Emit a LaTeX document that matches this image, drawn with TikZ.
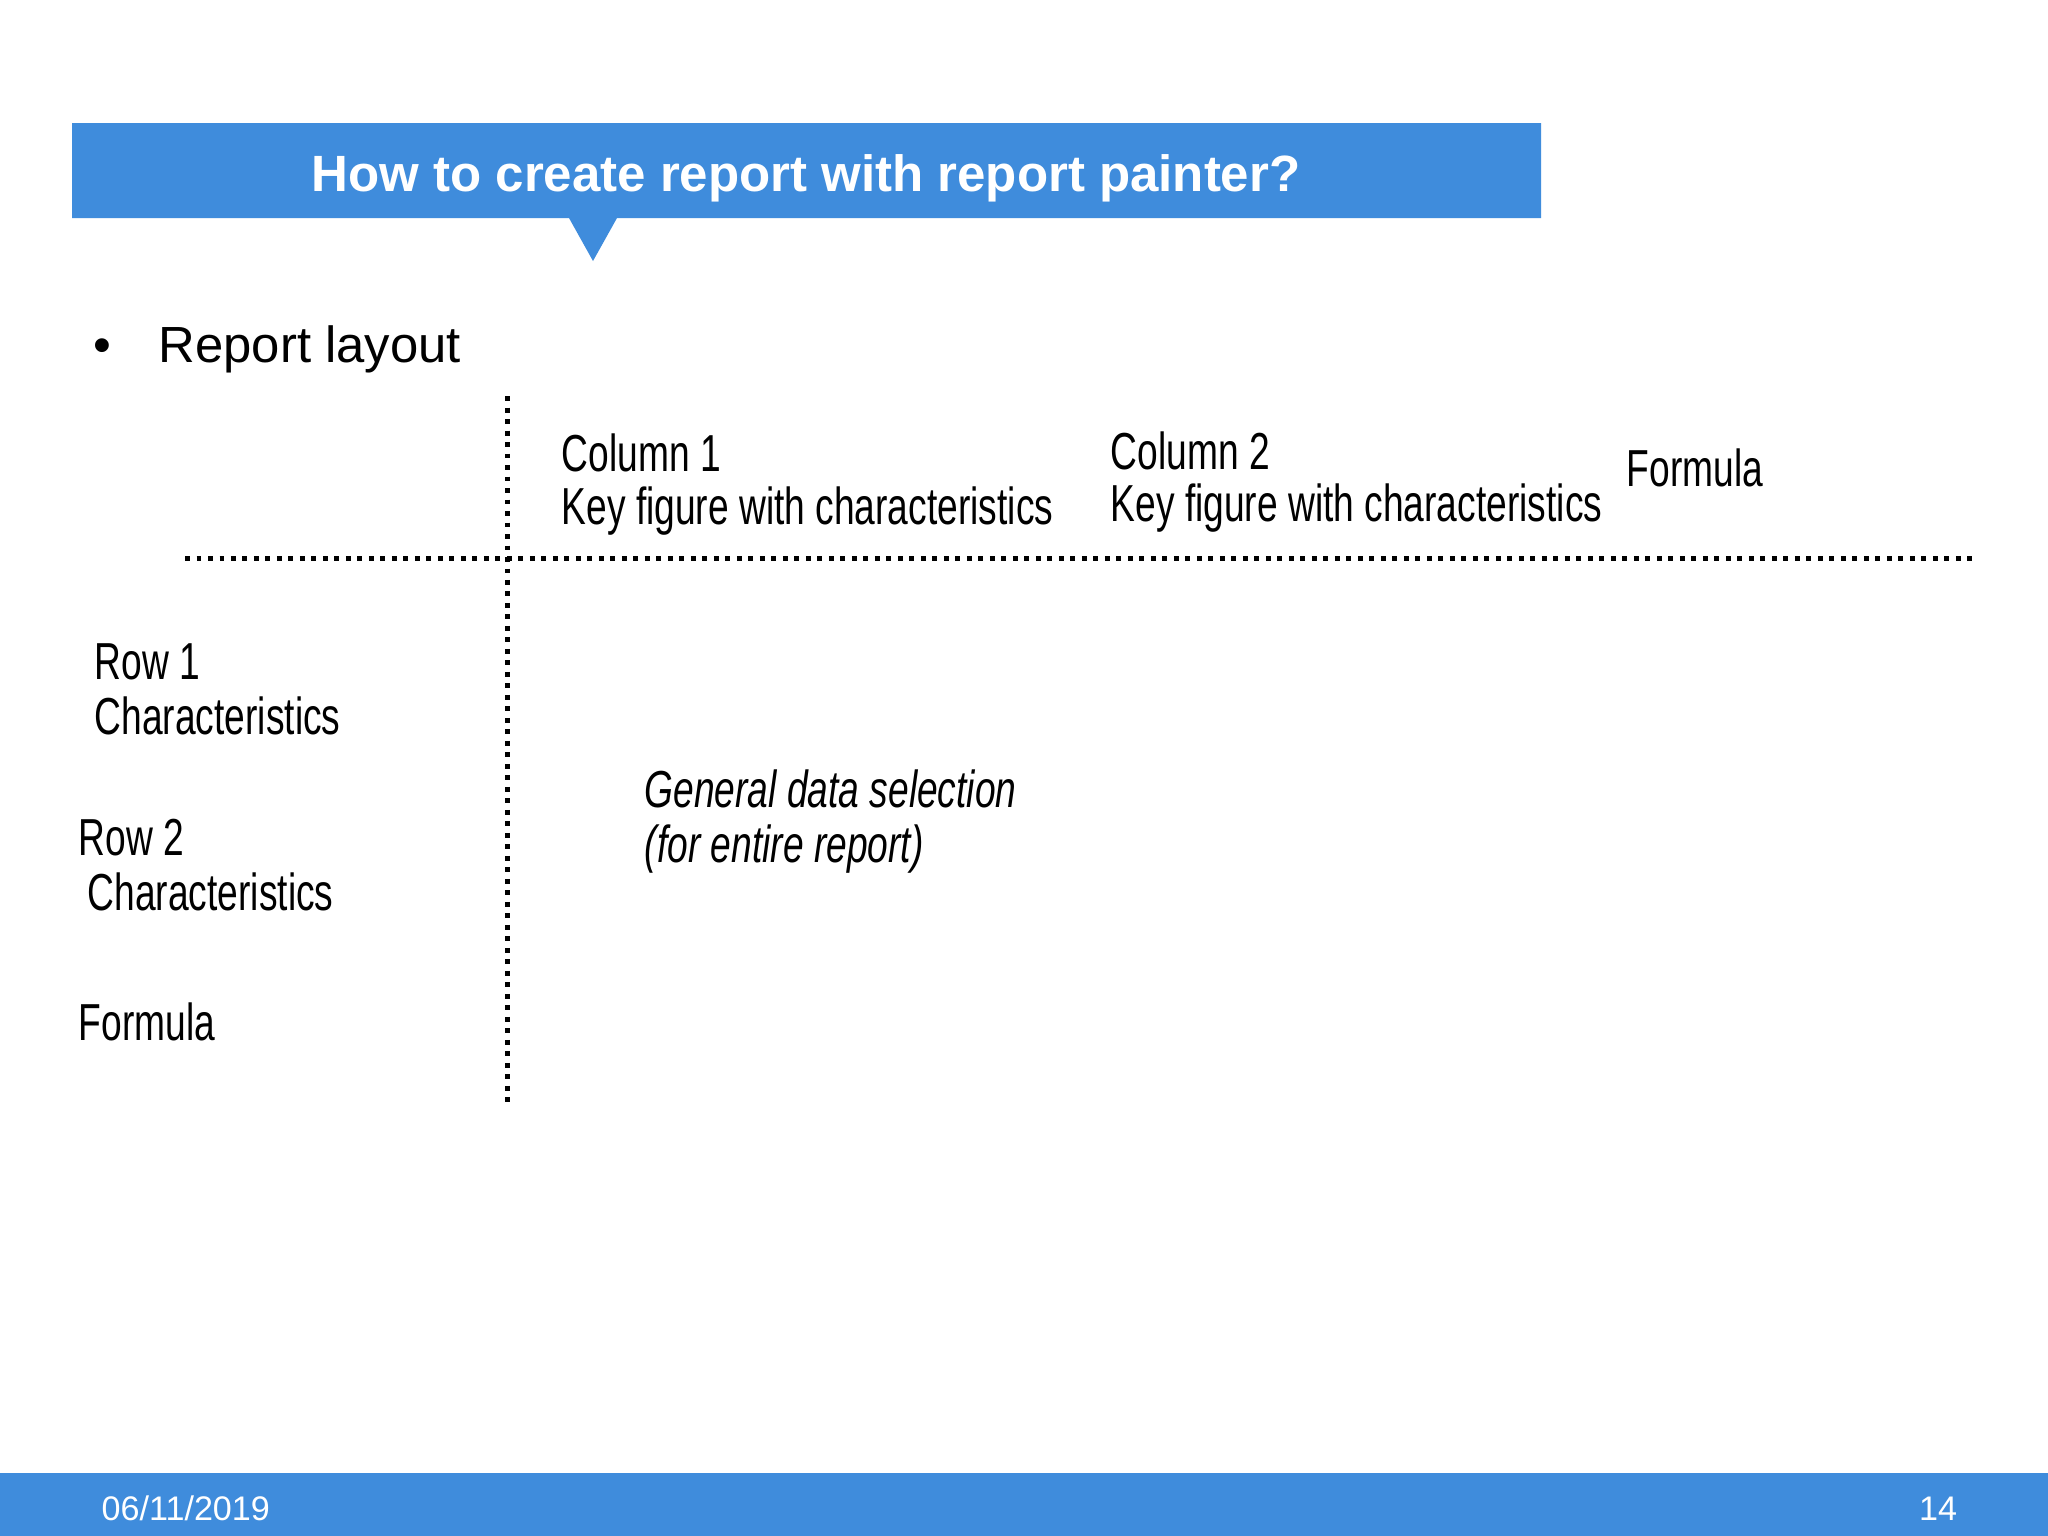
\documentclass[tikz,border=0pt]{standalone}
\usepackage{fontspec}
\setmainfont{Liberation Sans}
\newfontfamily\narrowfont[FakeStretch=0.714]{Liberation Sans}
\begin{document}
\begin{tikzpicture}[x=0.01cm,y=-0.01cm,
    barfill/.style={fill=slideblue},
    dotline/.style={line width=1.42pt,dash pattern=on 1.42pt off 1.85pt},
    lbl/.style={anchor=base west,inner sep=0pt,font=\narrowfont\fontsize{14.8}{17}\selectfont},
    lblit/.style={lbl,font=\narrowfont\itshape\fontsize{14.8}{17}\selectfont},
    foot/.style={inner sep=0pt,text=white,font=\fontsize{9.7}{11}\selectfont}]
    \definecolor{slideblue}{RGB}{63,140,220}
    \useasboundingbox[fill=white] (0,0) rectangle (2048,1536);
    % title bar with pointer
    \fill[barfill] (72,123) -- (1541,123) -- (1541,218) -- (617,218) -- (593,261) -- (569,218) -- (72,218) -- cycle;
    \node[anchor=base,inner sep=0pt,text=white,font=\bfseries\fontsize{14.5}{17}\selectfont] (title) at (806,191) {How to create report with report painter?};
    \node[anchor=base west,inner sep=0pt,font=\fontsize{14.45}{17}\selectfont] (bullet) at (93,362) {•};
    \node[anchor=base west,inner sep=0pt,font=\fontsize{14.45}{17}\selectfont] (layout) at (158,362) {Report layout};
    % grid lines
    \coordinate (vtop) at (507,396);
    \coordinate (vbot) at (507,1107);
    \coordinate (hleft) at (185,558);
    \coordinate (hright) at (1978,558);
    \draw[dotline] (vtop) -- (vbot);
    \draw[dotline] (hleft) -- (hright);
    % column heads
    \node[lbl] (col1) at (561,471) {Column 1};
    \node[lbl] (key1) at (561,524) {Key figure with characteristics};
    \node[lbl] (col2) at (1110,469) {Column 2};
    \node[lbl] (key2) at (1110,521) {Key figure with characteristics};
    \node[lbl] (colform) at (1626,486) {Formula};
    % row heads
    \node[lbl] (row1) at (94,679) {Row 1};
    \node[lbl] (char1) at (94,734) {Characteristics};
    \node[lbl] (row2) at (78,855) {Row 2};
    \node[lbl] (char2) at (87,910) {Characteristics};
    \node[lbl] (rowform) at (78,1040) {Formula};
    % selection
    \node[lblit] (gensel) at (644,807) {General data selection};
    \node[lblit] (entire) at (644,862) {(for entire report)};
    % footer
    \fill[barfill] (0,1473) rectangle (2048,1536);
    \node[foot,anchor=base west] (date) at (101,1520) {06/11/2019};
    \node[foot,anchor=base] (page) at (1938,1520) {14};
\end{tikzpicture}
\end{document}
